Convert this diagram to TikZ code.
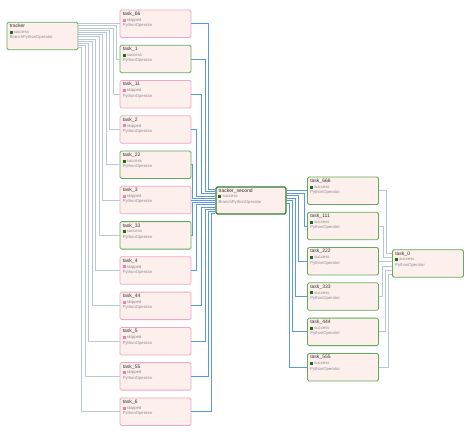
\documentclass[tikz,border=0pt]{standalone}
\usepackage{fontspec}
\setmainfont{Liberation Sans}
\definecolor{nodefill}{HTML}{FDF0EC}
\definecolor{skipborder}{HTML}{F0A6C4}
\definecolor{okborder}{HTML}{62AC58}
\definecolor{okdark}{HTML}{2E7D32}
\definecolor{successsq}{HTML}{1B6E20}
\definecolor{skippedsq}{HTML}{E983AA}
\definecolor{greyedge}{HTML}{B9C8D8}
\definecolor{blueedge}{HTML}{5A9AD8}
\definecolor{nametext}{HTML}{333333}
\definecolor{subtext}{HTML}{8A8A8A}
\definecolor{optext}{HTML}{8C8898}
\tikzset{
  taskbox/.style={draw, fill=nodefill, rounded corners=1.5pt, minimum width=71pt, minimum height=27.5pt, inner sep=0pt, line width=0.8pt},
  skipbox/.style={taskbox, draw=skipborder},
  okbox/.style={taskbox, draw=okborder},
  mainbox/.style={taskbox, draw=okdark, line width=1.3pt, minimum width=70pt, minimum height=27pt},
  namelbl/.style={inner sep=0pt, anchor=base west, text=nametext, font=\fontsize{5}{6}\selectfont},
  statlbl/.style={inner sep=0pt, anchor=west, text=subtext, font=\fontsize{4.2}{5}\selectfont},
  oplbl/.style={inner sep=0pt, anchor=base west, text=optext, font=\fontsize{4.2}{5}\selectfont},
  sqbox/.style={inner sep=0pt, minimum size=3pt, draw=none},
  gedge/.style={color=greyedge, line width=0.9pt},
  bedge/.style={color=blueedge, line width=0.9pt}
}
% #1 name, #2 x, #3 y, #4 box style, #5 label, #6 status word, #7 operator
\newcommand\mytask[7]{%
  \node[#4] (#1) at (#2,#3) {};
  \node[namelbl] (#1-n) at ([xshift=3pt,yshift=-5.8pt]#1.north west) {#5};
  \node[sqbox, fill=#6sq] (#1-s) at ([xshift=4.5pt,yshift=-10.5pt]#1.north west) {};
  \node[statlbl] (#1-t) at ([xshift=7pt,yshift=-10.5pt]#1.north west) {#6};
  \node[oplbl] (#1-o) at ([xshift=3pt,yshift=-17pt]#1.north west) {#7};
}
\begin{document}
\begin{tikzpicture}[x=1pt,y=-1pt]
\useasboundingbox (0,0) rectangle (474,435);
\fill[white] (0,0) rectangle (474,435);
% tracker
\mytask{tracker}{42.5}{36}{okbox}{tracker}{success}{BranchPythonOperator}
% left column
\mytask{t66}{155.5}{23.75}{skipbox}{task\_66}{skipped}{PythonOperator}
\mytask{t1}{155.5}{59.0}{okbox}{task\_1}{success}{PythonOperator}
\mytask{t11}{155.5}{94.3}{skipbox}{task\_11}{skipped}{PythonOperator}
\mytask{t2}{155.5}{129.6}{skipbox}{task\_2}{skipped}{PythonOperator}
\mytask{t22}{155.5}{164.8}{okbox}{task\_22}{success}{PythonOperator}
\mytask{t3}{155.5}{200.1}{skipbox}{task\_3}{skipped}{PythonOperator}
\mytask{t33}{155.5}{235.4}{okbox}{task\_33}{success}{PythonOperator}
\mytask{t4}{155.5}{270.6}{skipbox}{task\_4}{skipped}{PythonOperator}
\mytask{t44}{155.5}{305.9}{skipbox}{task\_44}{skipped}{PythonOperator}
\mytask{t5}{155.5}{341.2}{skipbox}{task\_5}{skipped}{PythonOperator}
\mytask{t55}{155.5}{376.4}{skipbox}{task\_55}{skipped}{PythonOperator}
\mytask{t6}{155.5}{411.7}{skipbox}{task\_6}{skipped}{PythonOperator}
% tracker_second
\mytask{ts}{251}{200.5}{mainbox}{tracker\_second}{success}{BranchPythonOperator}
% right column
\mytask{r666}{343}{190.75}{okbox}{task\_666}{success}{PythonOperator}
\mytask{r111}{343}{226.0}{okbox}{task\_111}{success}{PythonOperator}
\mytask{r222}{343}{261.3}{okbox}{task\_222}{success}{PythonOperator}
\mytask{r333}{343}{296.6}{okbox}{task\_333}{success}{PythonOperator}
\mytask{r444}{343}{331.9}{okbox}{task\_444}{success}{PythonOperator}
\mytask{r555}{343}{367.2}{okbox}{task\_555}{success}{PythonOperator}
% task_0
\mytask{t0}{428}{263.5}{okbox}{task\_0}{success}{PythonOperator}
% edges: tracker -> left column
\draw[gedge] (tracker.east |- t66.west) -- (t66.west);
\draw[gedge] ([yshift=10.05pt]tracker.east) -| ([xshift=-3pt]t1.west) -- (t1.west);
\draw[gedge] ([yshift=7.85pt]tracker.east) -| ([xshift=-6.5pt]t11.west) -- (t11.west);
\draw[gedge] ([yshift=5.65pt]tracker.east) -| ([xshift=-10pt]t2.west) -- (t2.west);
\draw[gedge] ([yshift=3.45pt]tracker.east) -| ([xshift=-13.5pt]t22.west) -- (t22.west);
\draw[gedge] ([yshift=1.25pt]tracker.east) -| ([xshift=-17pt]t3.west) -- (t3.west);
\draw[gedge] ([yshift=-0.95pt]tracker.east) -| ([xshift=-20.5pt]t33.west) -- (t33.west);
\draw[gedge] ([yshift=-3.15pt]tracker.east) -| ([xshift=-24pt]t4.west) -- (t4.west);
\draw[gedge] ([yshift=-5.35pt]tracker.east) -| ([xshift=-27.5pt]t44.west) -- (t44.west);
\draw[gedge] ([yshift=-7.55pt]tracker.east) -| ([xshift=-31pt]t5.west) -- (t5.west);
\draw[gedge] ([yshift=-9.75pt]tracker.east) -| ([xshift=-34.5pt]t55.west) -- (t55.west);
\draw[gedge] ([yshift=-11.95pt]tracker.east) -| ([xshift=-38pt]t6.west) -- (t6.west);
% edges: left column -> tracker_second
\draw[bedge] (t66.east) -| ([xshift=-7pt,yshift=11pt]ts.west) -- ([yshift=11pt]ts.west);
\draw[bedge] (t1.east) -| ([xshift=-10pt,yshift=8.8pt]ts.west) -- ([yshift=8.8pt]ts.west);
\draw[bedge] (t11.east) -| ([xshift=-14pt,yshift=6.6pt]ts.west) -- ([yshift=6.6pt]ts.west);
\draw[bedge] (t2.east) -| ([xshift=-19pt,yshift=4.4pt]ts.west) -- ([yshift=4.4pt]ts.west);
\draw[bedge] (t22.east) -| ([xshift=-23pt,yshift=2.2pt]ts.west) -- ([yshift=2.2pt]ts.west);
\draw[bedge] (t3.east) -- (t3.east -| ts.west);
\draw[bedge] (t33.east) -| ([xshift=-23pt,yshift=-2.2pt]ts.west) -- ([yshift=-2.2pt]ts.west);
\draw[bedge] (t4.east) -| ([xshift=-19pt,yshift=-4.4pt]ts.west) -- ([yshift=-4.4pt]ts.west);
\draw[bedge] (t44.east) -| ([xshift=-14pt,yshift=-6.6pt]ts.west) -- ([yshift=-6.6pt]ts.west);
\draw[bedge] (t5.east) -| ([xshift=-10pt,yshift=-8.8pt]ts.west) -- ([yshift=-8.8pt]ts.west);
\draw[bedge] (t55.east) -| ([xshift=-7pt,yshift=-11pt]ts.west) -- ([yshift=-11pt]ts.west);
\draw[bedge] (t6.east) -| ([xshift=-4pt,yshift=-12.6pt]ts.west) -- ([yshift=-12.6pt]ts.west);
% edges: tracker_second -> right column
\draw[bedge] (ts.east |- r666.west) -- (r666.west);
\draw[bedge] ([yshift=7.5pt]ts.east) -| ([xshift=-3pt]r111.west) -- (r111.west);
\draw[bedge] ([yshift=5pt]ts.east) -| ([xshift=-9pt]r222.west) -- (r222.west);
\draw[bedge] ([yshift=2.5pt]ts.east) -| ([xshift=-12pt]r333.west) -- (r333.west);
\draw[bedge] ([yshift=0pt]ts.east) -| ([xshift=-15pt]r444.west) -- (r444.west);
\draw[bedge] ([yshift=-2.5pt]ts.east) -| ([xshift=-18pt]r555.west) -- (r555.west);
% edges: right column -> task_0
\draw[gedge] (r666.east) -| ([xshift=-6pt,yshift=10.5pt]t0.west) -- ([yshift=10.5pt]t0.west);
\draw[gedge] (r111.east) -| ([xshift=-9pt,yshift=6.5pt]t0.west) -- ([yshift=6.5pt]t0.west);
\draw[gedge] (r222.east) -- (r222.east -| t0.west);
\draw[gedge] (r333.east) -| ([xshift=-10pt,yshift=-2.5pt]t0.west) -- ([yshift=-2.5pt]t0.west);
\draw[gedge] (r444.east) -| ([xshift=-7pt,yshift=-6.5pt]t0.west) -- ([yshift=-6.5pt]t0.west);
\draw[gedge] (r555.east) -| ([xshift=-4pt,yshift=-10.5pt]t0.west) -- ([yshift=-10.5pt]t0.west);
\end{tikzpicture}
\end{document}
